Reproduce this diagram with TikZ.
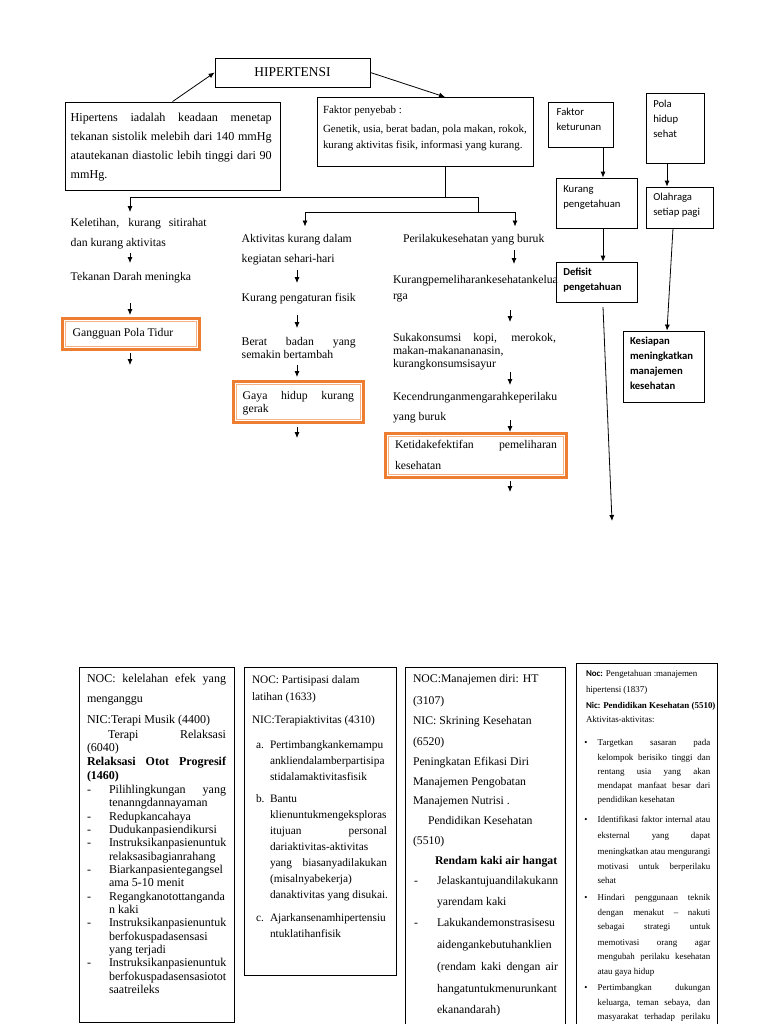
\documentclass[tikz,border=0pt]{standalone}
\usepackage{fontspec}
\setmainfont{Liberation Serif}
\newfontfamily\carl{Carlito}
\usetikzlibrary{arrows.meta}
\definecolor{org}{HTML}{ED7D31}
\definecolor{orgl}{HTML}{F4B183}
\newcommand\J[2]{\makebox[#1pt][s]{#2}}
\newcommand\va[4]{\coordinate (#1s) at (#2,#3); \coordinate (#1e) at (#2,#4); \draw[arr] (#1s) -- (#1e);}
\begin{document}
\begin{tikzpicture}[x=0.75pt,y=-0.75pt,
  box/.style={draw, line width=0.6pt, inner sep=0pt, rectangle},
  obox/.style={draw=org, line width=2.4pt, inner sep=0pt, rectangle},
  ibox/.style={draw=orgl, line width=0.7pt, inner sep=0pt, rectangle},
  arr/.style={-{Latex[length=4.5pt,width=3.8pt]}, line width=0.6pt},
  ln/.style={line width=0.6pt},
  txt/.style={anchor=base west, inner sep=0pt, outer sep=0pt, yshift=-#1},
  txt/.default=2.6pt]
\useasboundingbox (0,0) rectangle (768,1024);
\clip (0,0) rectangle (768,1024);
\fill[white] (0,0) rectangle (768,1024);

% ---------- top boxes
\node[box, minimum width=116.25pt, minimum height=21.75pt, font=\fontsize{10.1}{12}\selectfont] (hip) at (292.5,72.5) {HIPERTENSI};
\node[box, minimum width=161.25pt, minimum height=66pt] (def) at (172.5,146) {};
\node[box, minimum width=162pt, minimum height=51.75pt] (fak) at (425,131.5) {};

\begin{scope}[every node/.append style={font=\fontsize{9.1}{11}\selectfont}]
\node[txt=2.7pt] (d1) at (70.7,118) {\J{150.75}{Hipertens iadalah keadaan menetap}};
\node[txt=2.7pt] (d2) at (70.7,137) {\J{150.75}{tekanan sistolik melebih dari 140 mmHg}};
\node[txt=2.7pt] (d3) at (70.7,156) {\J{150.75}{atautekanan diastolic lebih tinggi dari 90}};
\node[txt=2.7pt] (d4) at (70.7,175) {mmHg.};
\end{scope}
\begin{scope}[every node/.append style={font=\fontsize{8.2}{10}\selectfont}]
\node[txt=2.5pt] (f1) at (323,110) {Faktor penyebab :};
\node[txt=2.5pt] (f2) at (323,129) {Genetik, usia, berat badan, pola makan, rokok,};
\node[txt=2.5pt] (f3) at (323,145) {kurang aktivitas fisik, informasi yang kurang.};
\end{scope}

\coordinate (fakin) at (445,97);
\draw[arr] (def.north) -- (hip.west);
\draw[arr] (hip.east) -- (fakin);

% ---------- tree connector
\coordinate (fo) at (445,166);
\coordinate (j0) at (445,197);
\coordinate (jl) at (130,197);
\coordinate (jr) at (478,197);
\coordinate (jr2) at (478,212);
\coordinate (jm) at (305,212);
\coordinate (jrr) at (515,212);
\coordinate (el) at (130,212);
\coordinate (em) at (305,226.5);
\coordinate (er) at (515,226.5);
\draw[ln] (fo) -- (j0);
\draw[ln] (jl) -- (jr);
\draw[arr] (jl) -- (el);
\draw[ln] (jr) -- (jr2);
\draw[ln] (jm) -- (jrr);
\draw[arr] (jm) -- (em);
\draw[arr] (jrr) -- (er);

% ---------- orange boxes
\node[obox, minimum width=102.6pt, minimum height=23.1pt] (gang) at (131,334) {};
\node[ibox, minimum width=98.25pt, minimum height=18.75pt] (gangi) at (gang) {};
\node[obox, minimum width=97.35pt, minimum height=30.6pt] (gaya) at (298.5,402) {};
\node[ibox, minimum width=93pt, minimum height=26.25pt] (gayai) at (gaya) {};
\node[obox, minimum width=135.6pt, minimum height=32.85pt] (ketid) at (476,455.5) {};
\node[ibox, minimum width=131.25pt, minimum height=28.5pt] (ketidi) at (ketid) {};

% ---------- flow texts
\begin{scope}[every node/.append style={font=\fontsize{8.8}{10}\selectfont}]
\node[txt] (k1) at (70.7,223) {\J{102}{Keletihan, kurang sitirahat}};
\node[txt] (k2) at (70.7,243) {dan kurang aktivitas};
\node[txt] (k3) at (70.7,277) {Tekanan Darah meningka};
\node[txt] (k4) at (72.7,333) {Gangguan Pola Tidur};

\node[txt] (m1) at (241.7,239) {Aktivitas kurang dalam};
\node[txt] (m2) at (241.7,259) {kegiatan sehari-hari};
\node[txt] (m3) at (241.7,298) {Kurang pengaturan fisik};
\node[txt] (m4) at (241.7,341.7) {\J{85.5}{Berat badan yang}};
\node[txt] (m5) at (241.7,355) {semakin bertambah};
\node[txt] (m6) at (242.7,396) {\J{83.5}{Gaya hidup kurang}};
\node[txt] (m7) at (242.7,409) {gerak};

\node[txt] (r1) at (403,239) {Perilakukesehatan yang buruk};
\node[txt] (r2) at (393,280) {Kurangpemeliharankesehatankelua};
\node[txt] (r3) at (393,296) {rga};
\node[txt] (r4) at (393,338) {\J{122.25}{Sukakonsumsi kopi, merokok,}};
\node[txt] (r5) at (393,351) {makan-makanananasin,};
\node[txt] (r6) at (393,364) {kurangkonsumsisayur};
\node[txt] (r7) at (393,397) {Kecendrunganmengarahkeperilaku};
\node[txt] (r8) at (393,417) {yang buruk};
\node[txt] (r9) at (395,445) {\J{121.5}{Ketidakefektifan pemeliharan}};
\node[txt] (r10) at (395,466) {kesehatan};
\end{scope}

\va{a1}{130}{253}{263}
\va{a2}{130}{303}{315}
\va{a3}{130}{353}{365}
\va{a4}{297}{270}{283}
\va{a5}{297}{315}{328}
\va{a6}{297}{365}{377}
\va{a7}{297}{427}{438}
\va{a8}{514}{250}{264}
\va{a9}{510}{310}{322}
\va{a10}{510}{372}{385}
\va{a11}{510}{420}{432}
\va{a12}{510}{481}{492}

% ---------- right sub-diagram
\node[box, minimum width=48.75pt, minimum height=33.75pt] (fket) at (580.5,124.5) {};
\node[box, minimum width=60.75pt, minimum height=37.5pt] (kpeng) at (596.5,203) {};
\node[box, minimum width=60.75pt, minimum height=30pt] (defis) at (596.5,282) {};
\node[box, minimum width=43.5pt, minimum height=52.5pt] (pola) at (675,128) {};
\node[box, minimum width=50.25pt, minimum height=30.75pt] (olah) at (679.5,207.5) {};
\node[box, minimum width=60.75pt, minimum height=53.25pt] (kesiap) at (663.5,366.5) {};

\begin{scope}[every node/.append style={font=\carl\fontsize{8}{10}\selectfont}]
\node[txt=2.4pt] (fk1) at (556.7,112.3) {Faktor};
\node[txt=2.4pt] (fk2) at (556.7,127) {keturunan};
\node[txt=2.4pt] (kp1) at (563.3,189.3) {Kurang};
\node[txt=2.4pt] (kp2) at (563.3,204) {pengetahuan};
\node[txt=2.4pt, font=\carl\bfseries\fontsize{8}{10}\selectfont] (df1) at (563.3,272.7) {Defisit};
\node[txt=2.4pt, font=\carl\bfseries\fontsize{8}{10}\selectfont] (df2) at (563.3,287.3) {pengetahuan};
\node[txt=2.4pt] (pl1) at (653.3,104) {Pola};
\node[txt=2.4pt] (pl2) at (653.3,119.3) {hidup};
\node[txt=2.4pt] (pl3) at (653.3,134.3) {sehat};
\node[txt=2.4pt] (ol1) at (653.3,197.3) {Olahraga};
\node[txt=2.4pt] (ol2) at (653.3,212.3) {setiap pagi};
\node[txt=2.4pt, font=\carl\bfseries\fontsize{8}{10}\selectfont] (ks1) at (630,341) {Kesiapan};
\node[txt=2.4pt, font=\carl\bfseries\fontsize{8}{10}\selectfont] (ks2) at (630,356.7) {meningkatkan};
\node[txt=2.4pt, font=\carl\bfseries\fontsize{8}{10}\selectfont] (ks3) at (630,371.7) {manajemen};
\node[txt=2.4pt, font=\carl\bfseries\fontsize{8}{10}\selectfont] (ks4) at (630,386) {kesehatan};
\end{scope}

\coordinate (xa) at (603,0);
\coordinate (xb) at (667,0);
\coordinate (xc) at (673,0);
\draw[arr] (fket.south -| xa) -- (kpeng.north -| xa);
\draw[arr] (kpeng.south -| xa) -- (defis.north -| xa);
\coordinate (ds) at (603,307);
\coordinate (de) at (612,521);
\draw[arr] (ds) -- (de);
\draw[arr] (pola.south -| xb) -- (olah.north -| xb);
\draw[arr] (olah.south -| xc) -- (kesiap.north -| xb);

% ---------- bottom boxes
\node[box, minimum width=116.25pt, minimum height=266.25pt] (b1) at (156.5,844.5) {};
\node[box, minimum width=114pt, minimum height=231pt] (b2) at (320,821) {};
\node[box, minimum width=120pt, minimum height=272.25pt] (b3) at (485,848.5) {};
\node[box, minimum width=105.75pt, minimum height=275.25pt] (b4) at (646.5,846.5) {};

% box 1
\begin{scope}[every node/.append style={font=\fontsize{9}{10}\selectfont}]
\node[txt=2.7pt] (p1) at (87,679) {\J{104.25}{NOC: kelelahan efek yang}};
\node[txt=2.7pt] (p2) at (87,699) {menganggu};
\node[txt=2.7pt] (p3) at (87,720) {NIC:Terapi Musik (4400)};
\node[txt=2.7pt] (p4) at (108,735) {\J{88.5}{Terapi Relaksasi}};
\node[txt=2.7pt] (p5) at (87,748) {(6040)};
\node[txt=2.7pt] (p6) at (87,762) {\J{104.25}{\bfseries Relaksasi Otot Progresif}};
\node[txt=2.7pt] (p7) at (87,776) {\textbf{(1460)}};
\node[txt=2.7pt] (p8d) at (87,790) {-};
\node[txt=2.7pt] (p8) at (109,790) {\J{87.75}{Pilihlingkungan yang}};
\node[txt=2.7pt] (p9) at (109,803.3) {tenanngdannayaman};
\node[txt=2.7pt] (p10d) at (87,816.7) {-};
\node[txt=2.7pt] (p10) at (109,816.7) {Redupkancahaya};
\node[txt=2.7pt] (p11d) at (87,830) {-};
\node[txt=2.7pt] (p11) at (109,830) {Dudukanpasiendikursi};
\node[txt=2.7pt] (p12d) at (87,843.3) {-};
\node[txt=2.7pt] (p12) at (109,843.3) {Instruksikanpasienuntuk};
\node[txt=2.7pt] (p13) at (109,856.7) {relaksasibagianrahang};
\node[txt=2.7pt] (p14d) at (87,870) {-};
\node[txt=2.7pt] (p14) at (109,870) {Biarkanpasientegangsel};
\node[txt=2.7pt] (p15) at (109,883.3) {ama 5-10 menit};
\node[txt=2.7pt] (p16d) at (87,896.7) {-};
\node[txt=2.7pt] (p16) at (109,896.7) {Regangkanotottanganda};
\node[txt=2.7pt] (p17) at (109,910) {n kaki};
\node[txt=2.7pt] (p18d) at (87,923.3) {-};
\node[txt=2.7pt] (p18) at (109,923.3) {Instruksikanpasienuntuk};
\node[txt=2.7pt] (p19) at (109,936.7) {berfokuspadasensasi};
\node[txt=2.7pt] (p20) at (109,950) {yang terjadi};
\node[txt=2.7pt] (p21d) at (87,963.3) {-};
\node[txt=2.7pt] (p21) at (109,963.3) {Instruksikanpasienuntuk};
\node[txt=2.7pt] (p22) at (109,976.7) {berfokuspadasensasiotot};
\node[txt=2.7pt] (p23) at (109,990) {saatreileks};
\end{scope}

% box 2
\begin{scope}[every node/.append style={font=\fontsize{8.5}{10}\selectfont}]
\node[txt] (q1) at (252,680) {NOC: Partisipasi dalam};
\node[txt] (q2) at (252,697) {latihan (1633)};
\node[txt] (q3) at (252,720) {NIC:Terapiaktivitas (4310)};
\node[txt] (q4l) at (256,745) {a.};
\node[txt] (q4) at (270,745) {Pertimbangkankemampu};
\node[txt] (q5) at (270,761) {ankliendalamberpartisipa};
\node[txt] (q6) at (270,777) {stidalamaktivitasfisik};
\node[txt] (q7l) at (256,799) {b.};
\node[txt] (q7) at (270,799) {Bantu};
\node[txt] (q8) at (270,815) {klienuntukmengeksploras};
\node[txt] (q9) at (270,831) {\J{87.75}{itujuan personal}};
\node[txt] (q10) at (270,847) {dariaktivitas-aktivitas};
\node[txt] (q11) at (270,863) {\J{87.75}{yang biasanyadilakukan}};
\node[txt] (q12) at (270,879) {(misalnyabekerja)};
\node[txt] (q13) at (270,895) {danaktivitas yang disukai.};
\node[txt] (q14l) at (256,918) {c.};
\node[txt] (q14) at (270,918) {Ajarkansenamhipertensiu};
\node[txt] (q15) at (270,934) {ntuklatihanfisik};
\end{scope}

% box 3
\begin{scope}[every node/.append style={font=\fontsize{8.8}{10}\selectfont}]
\node[txt] (s1) at (413,679) {NOC:Manajemen diri: HT};
\node[txt] (s2) at (413,701) {(3107)};
\node[txt] (s3) at (413,721) {NIC: Skrining Kesehatan};
\node[txt] (s4) at (413,742) {(6520)};
\node[txt] (s5) at (413,762) {Peningkatan Efikasi Diri};
\node[txt] (s6) at (413,782) {Manajemen Pengobatan};
\node[txt] (s7) at (413,801) {Manajemen Nutrisi .};
\node[txt] (s8) at (428,821) {Pendidikan Kesehatan};
\node[txt] (s9) at (413,841) {(5510)};
\node[txt] (s10) at (435,861) {\textbf{Rendam kaki air hangat}};
\node[txt] (s11d) at (414,881) {-};
\node[txt] (s11) at (437,881) {Jelaskantujuandilakukann};
\node[txt] (s12) at (437,902) {yarendam kaki};
\node[txt] (s13d) at (414,923) {-};
\node[txt] (s13) at (437,923) {Lakukandemonstrasisesu};
\node[txt] (s14) at (437,945) {aidengankebutuhanklien};
\node[txt] (s15) at (437,967) {\J{90.75}{(rendam kaki dengan air}};
\node[txt] (s16) at (437,989) {hangatuntukmenurunkant};
\node[txt] (s17) at (437,1010) {ekanandarah)};
\end{scope}

% box 4
\begin{scope}[every node/.append style={font=\fontsize{6.7}{8}\selectfont}]
\node[txt=2pt] (u1) at (586,674.3) {{\carl\bfseries Noc:} Pengetahuan :manajemen};
\node[txt=2pt] (u2) at (586,690) {hipertensi (1837)};
\node[txt=2pt] (u3) at (586,705.7) {{\carl\bfseries Nic:} \textbf{Pendidikan Kesehatan (5510)}};
\node[txt=2pt] (u4) at (586,720) {Aktivitas-aktivitas:};
\node[txt=2pt] (u5b) at (584.3,743.3) {•};
\node[txt=2pt] (u5) at (597.7,743.3) {\J{84.45}{Targetkan sasaran pada}};
\node[txt=2pt] (u6) at (597.7,757.5) {\J{84.45}{kelompok berisiko tinggi dan}};
\node[txt=2pt] (u7) at (597.7,771.5) {\J{84.45}{rentang usia yang akan}};
\node[txt=2pt] (u8) at (597.7,785.5) {\J{84.45}{mendapat manfaat besar dari}};
\node[txt=2pt] (u9) at (597.7,799.5) {pendidikan kesehatan};
\node[txt=2pt] (u10b) at (584.3,820) {•};
\node[txt=2pt] (u10) at (597.7,820) {\J{84.45}{Identifikasi faktor internal atau}};
\node[txt=2pt] (u11) at (597.7,836) {\J{84.45}{eksternal yang dapat}};
\node[txt=2pt] (u12) at (597.7,852) {\J{84.45}{meningkatkan atau mengurangi}};
\node[txt=2pt] (u13) at (597.7,867) {\J{84.45}{motivasi untuk berperilaku}};
\node[txt=2pt] (u14) at (597.7,881) {sehat};
\node[txt=2pt] (u15b) at (584.3,898) {•};
\node[txt=2pt] (u15) at (597.7,898) {\J{84.45}{Hindari penggunaan teknik}};
\node[txt=2pt] (u16) at (597.7,912.5) {\J{84.45}{dengan menakut – nakuti}};
\node[txt=2pt] (u17) at (597.7,927) {\J{84.45}{sebagai strategi untuk}};
\node[txt=2pt] (u18) at (597.7,942.5) {\J{84.45}{memotivasi orang agar}};
\node[txt=2pt] (u19) at (597.7,957) {\J{84.45}{mengubah perilaku kesehatan}};
\node[txt=2pt] (u20) at (597.7,971.5) {atau gaya hidup};
\node[txt=2pt] (u21b) at (584.3,988) {•};
\node[txt=2pt] (u21) at (597.7,988) {\J{84.45}{Pertimbangkan dukungan}};
\node[txt=2pt] (u22) at (597.7,1002.5) {\J{84.45}{keluarga, teman sebaya, dan}};
\node[txt=2pt] (u23) at (597.7,1016.5) {\J{84.45}{masyarakat terhadap perilaku}};
\end{scope}
\end{tikzpicture}
\end{document}
